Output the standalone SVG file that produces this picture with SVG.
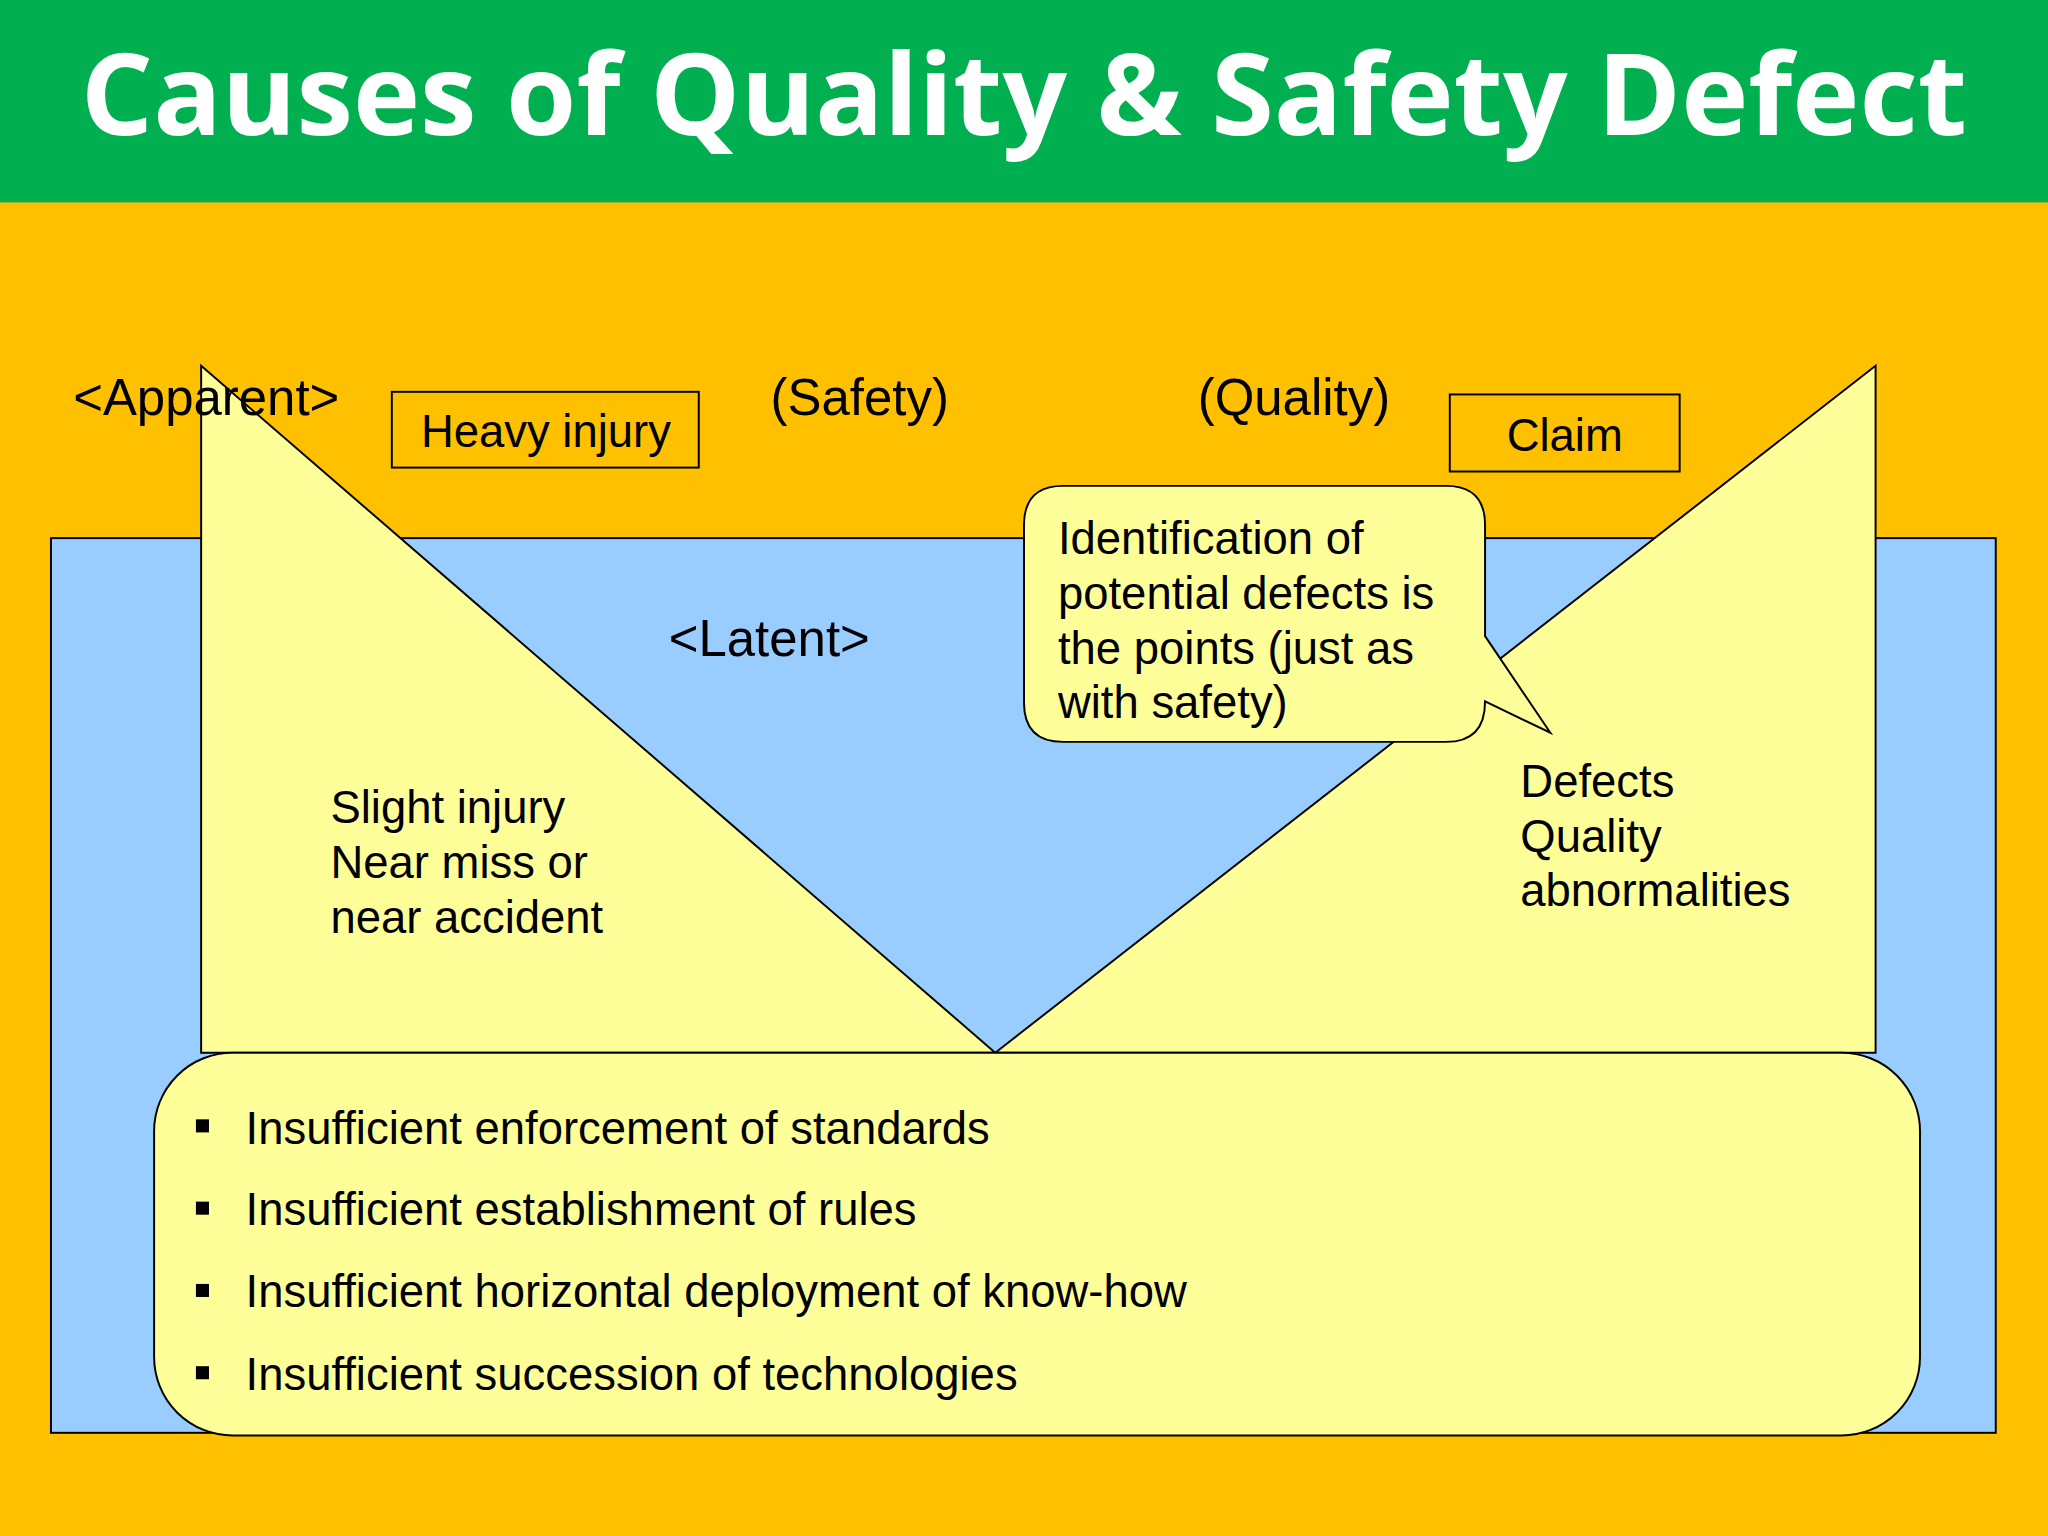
<svg xmlns="http://www.w3.org/2000/svg" width="2048" height="1536" viewBox="0 0 2048 1536">
<style>
.s{stroke:#000;stroke-width:1.5}
.y{fill:#FFFF99}
.t{font-family:"Liberation Sans",Arial,sans-serif;font-size:34.8px;fill:#000}
.b{font-size:39px}
</style>
<rect width="2048" height="1536" fill="#FFC000"/>
<g transform="scale(1.30612)">
<g id="header"><rect width="1568" height="155" fill="#00B050"/>
<text x="784" y="103" text-anchor="middle" font-family="'Open Sans',sans-serif" font-weight="bold" font-size="87" fill="#fff">Causes of Quality &amp; Safety Defect</text></g>
<g id="latent-area"><rect x="39" y="412" width="1489" height="685" fill="#99CCFF" class="s"/></g>
<g id="safety-triangle"><polygon points="154,280 762,806 154,806" class="y s"/></g>
<g id="quality-triangle"><polygon points="1436,280 1436,806 762,806" class="y s"/></g>
<g id="causes"><rect x="118" y="806" width="1352" height="293" rx="60" class="y s"/>
<g fill="#000"><rect x="150" y="857" width="10" height="10"/><rect x="150" y="920" width="10" height="10"/><rect x="150" y="983" width="10" height="10"/><rect x="150" y="1046" width="10" height="10"/></g>
<text class="t" x="188" y="876">Insufficient enforcement of standards</text>
<text class="t" x="188" y="938">Insufficient establishment of rules</text>
<text class="t" x="188" y="1001">Insufficient horizontal deployment of know-how</text>
<text class="t" x="188" y="1064">Insufficient succession of technologies</text></g>
<g id="callout"><path d="M814,372 H1107 Q1137,372 1137,402 V487 L1187,561 L1137,537 Q1137,568 1107,568 H814 Q784,568 784,538 V402 Q784,372 814,372 Z" class="y s"/>
<text class="t" x="810" y="424">Identification of</text>
<text class="t" x="810" y="466">potential defects is</text>
<text class="t" x="810" y="508">the points (just as</text>
<text class="t" x="810" y="550">with safety)</text></g>
<g id="labels">
<text class="t b" x="56" y="318">&lt;Apparent&gt;</text>
<text class="t b" x="590" y="318">(Safety)</text>
<text class="t b" x="917" y="318">(Quality)</text>
<text class="t b" x="512" y="502">&lt;Latent&gt;</text>
<text class="t" x="253" y="630">Slight injury</text>
<text class="t" x="253" y="672">Near miss or</text>
<text class="t" x="253" y="714">near accident</text>
<text class="t" x="1164" y="610">Defects</text>
<text class="t" x="1164" y="652">Quality</text>
<text class="t" x="1164" y="694">abnormalities</text></g>
<g id="heavy-injury"><rect x="300" y="300" width="235" height="58" fill="none" class="s"/><text class="t" x="418" y="342" text-anchor="middle">Heavy injury</text></g>
<g id="claim"><rect x="1110" y="302" width="176" height="59" fill="none" class="s"/><text class="t" x="1198" y="345" text-anchor="middle">Claim</text></g>
</g>
</svg>
